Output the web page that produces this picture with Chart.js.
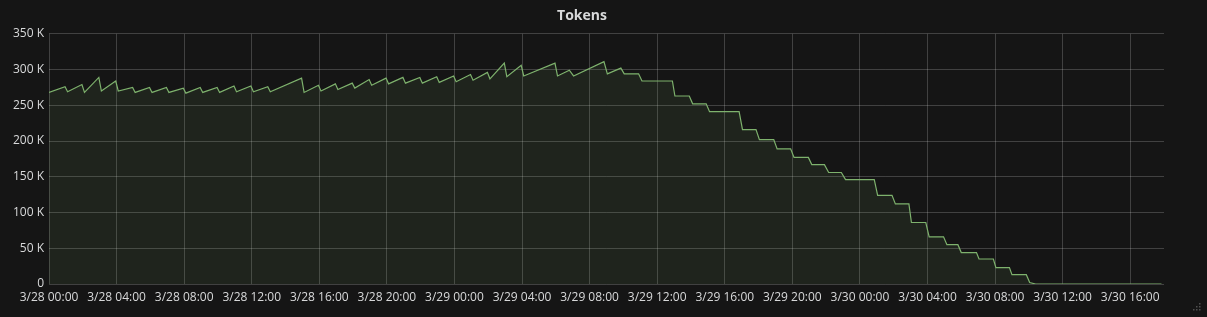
<!DOCTYPE html>
<html>
<head>
<meta charset="utf-8">
<script src="https://cdn.jsdelivr.net/npm/chart.js@4/dist/chart.umd.min.js"></script>
<style>
  html, body { margin: 0; padding: 0; background: #151515; }
  #wrap { width: 1207px; height: 317px; }
</style>
</head>
<body>
<div id="wrap"><canvas id="tokensChart" width="1207" height="317"></canvas></div>
<script>
// hours since 3/28 00:00
const hours = [
  0, 0.95, 1.1, 1.95, 2.1, 2.95, 3.1, 3.95, 4.1, 4.95, 5.1, 5.95, 6.1, 6.95, 7.1,
  7.95, 8.1, 8.95, 9.1, 9.95, 10.1, 10.95, 11.1, 11.95, 12.1, 12.95, 13.1,
  14.95, 15.1, 15.95, 16.1, 16.95, 17.1, 17.95, 18.1, 18.95, 19.1, 19.95, 20.1,
  20.95, 21.1, 21.95, 22.1, 22.95, 23.1, 23.95, 24.1, 24.95, 25.1, 25.95, 26.1,
  26.95, 27.1, 27.95, 28.1, 29.95, 30.1, 30.8, 31.05, 32.85, 33.05, 33.85, 34.05,
  34.9, 35.1, 36.9, 37.05, 37.9, 38.1, 38.9, 39.1, 40.85, 41.05, 41.85, 42.05,
  42.9, 43.1, 43.9, 44.1, 44.95, 45.15, 45.9, 46.15, 46.9, 47.15, 48.85, 49.05,
  49.9, 50.1, 50.9, 51.05, 51.9, 52.1, 52.95, 53.15, 53.8, 54.0, 54.9, 55.05,
  55.9, 56.05, 56.85, 57.0, 57.85, 58.05, 58.4, 65.85
];
// tokens, in thousands
const tokensK = [
  268, 276, 269, 279, 268, 289, 270, 284, 270, 275, 268, 275, 268, 275, 268,
  274, 267, 275, 268, 275, 268, 277, 269, 277, 269, 276, 269,
  288, 268, 278, 270, 280, 272, 281, 274, 286, 278, 288, 280,
  289, 281, 289, 281, 290, 282, 291, 283, 293, 285, 296, 287,
  309, 290, 306, 291, 309, 291, 299, 291, 311, 294, 302, 294,
  294, 284, 284, 263, 263, 252, 252, 241, 241, 216, 216, 202,
  202, 189, 189, 177, 177, 167, 167, 156, 156, 146, 146, 124,
  124, 112, 112, 86, 86, 66, 66, 55, 55, 44, 44, 35,
  35, 23, 23, 13, 13, 2, 0, 0
];
const xTickLabels = [
  '3/28 00:00', '3/28 04:00', '3/28 08:00', '3/28 12:00', '3/28 16:00', '3/28 20:00',
  '3/29 00:00', '3/29 04:00', '3/29 08:00', '3/29 12:00', '3/29 16:00', '3/29 20:00',
  '3/30 00:00', '3/30 04:00', '3/30 08:00', '3/30 12:00', '3/30 16:00'
];

const points = hours.map((h, i) => ({ x: h, y: tokensK[i] }));
const textColor = '#d8d9da';
const gridColor = 'rgba(255, 255, 255, 0.19)';

Chart.defaults.font.family = '"Open Sans", "Noto Sans", sans-serif';
Chart.defaults.font.size = 12;
Chart.defaults.color = textColor;

// little resize grip in the panel corner
const cornerGrip = {
  id: 'cornerGrip',
  afterDraw(chart) {
    const c = chart.ctx;
    c.save();
    c.fillStyle = 'rgba(255, 255, 255, 0.25)';
    [[1199, 303], [1196, 306], [1199, 306], [1193, 309], [1196, 309], [1199, 309]]
      .forEach(([x, y]) => c.fillRect(x, y, 1.5, 1.5));
    c.restore();
  }
};

const ctx = document.getElementById('tokensChart').getContext('2d');
new Chart(ctx, {
  type: 'line',
  data: {
    datasets: [{
      label: 'Tokens',
      data: points,
      borderColor: '#7eb26d',
      backgroundColor: 'rgba(126, 178, 109, 0.1)',
      borderWidth: 1.2,
      pointRadius: 0,
      tension: 0,
      fill: 'origin'
    }]
  },
  options: {
    responsive: false,
    animation: false,
    layout: { padding: { left: 0, right: 43, top: 0, bottom: 0 } },
    plugins: {
      legend: { display: false },
      tooltip: { enabled: false },
      title: {
        display: true,
        text: 'Tokens',
        color: textColor,
        font: { size: 14, weight: 'bold' },
        padding: { top: 8, bottom: 9 }
      }
    },
    scales: {
      x: {
        type: 'linear',
        min: 0,
        max: 66,
        border: { display: false },
        grid: { color: gridColor, drawTicks: false },
        ticks: {
          stepSize: 4,
          includeBounds: false,
          autoSkip: false,
          maxRotation: 0,
          padding: 6,
          callback: (v) => xTickLabels[v / 4] || ''
        },
        afterFit: (scale) => { scale.height = 33; }
      },
      y: {
        min: 0,
        max: 350,
        border: { display: false },
        grid: { color: gridColor, drawTicks: false },
        ticks: {
          stepSize: 50,
          padding: 5,
          callback: (v) => v === 0 ? '0' : v + ' K'
        },
        afterFit: (scale) => { scale.width = 49; }
      }
    }
  },
  plugins: [cornerGrip]
});
</script>
</body>
</html>
